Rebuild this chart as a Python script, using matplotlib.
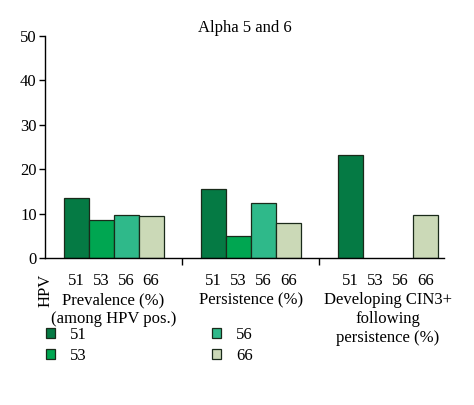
import matplotlib.pyplot as plt
import matplotlib.transforms as mtransforms
import numpy as np

# Data (percent)
types = ['51', '53', '56', '66']
groups = ['Prevalence (%)\n(among HPV pos.)', 'Persistence (%)',
          'Developing CIN3+\nfollowing\npersistence (%)']
prevalence = [13.5, 8.5, 9.7, 9.4]
persistence = [15.6, 4.9, 12.5, 7.9]
cin3 = [23.2, 0, 0, 9.6]
colors = ['#057a44', '#00a651', '#2fb98a', '#cbd9b7']

plt.rcParams['font.family'] = ['Liberation Serif', 'DejaVu Serif']

fig = plt.figure(figsize=(4.74, 4.05), dpi=100)
ax = fig.add_axes([0.095, 0.363, 0.842, 0.548])

values = np.array([prevalence, persistence, cin3])
x = np.arange(len(groups))
w = 0.182
offsets = (np.arange(len(types)) - 1.5) * w

for i, t in enumerate(types):
    vals = values[:, i]
    mask = vals > 0
    ax.bar(x[mask] + offsets[i], vals[mask], width=w, color=colors[i],
           edgecolor='#1a2a1a', linewidth=0.9, label=t)

ax.set_xlim(-0.5, 2.41)
ax.set_ylim(0, 50)
ax.set_yticks([0, 10, 20, 30, 40, 50])
ax.set_xticks([0.5, 1.5])
ax.set_xticklabels([])
ax.tick_params(axis='y', labelsize=12, length=4, width=1, pad=2)
ax.tick_params(axis='x', length=5, width=1)
ax.spines['top'].set_visible(False)
ax.spines['right'].set_visible(False)
ax.spines['left'].set_linewidth(1)
ax.spines['bottom'].set_linewidth(1)

ax.set_title('Alpha 5 and 6', fontsize=12, pad=3)

# HPV type labels under each bar
trans = mtransforms.blended_transform_factory(ax.transData, ax.transAxes)
for g in x:
    for i, t in enumerate(types):
        ax.text(g + offsets[i], -0.068, t, transform=trans, ha='center',
                va='top', fontsize=12)
    ax.text(g, -0.155, groups[g], transform=trans, ha='center', va='top',
            fontsize=12, linespacing=1.22)

ax.text(-0.5, -0.07, 'HPV', transform=trans, rotation=90, ha='center',
        va='top', fontsize=12)

fig.legend(loc='upper left', bbox_to_anchor=(0.065, 0.23), ncol=2,
           frameon=False, fontsize=12, handlelength=0.55, handleheight=0.55,
           handletextpad=0.9, columnspacing=7.5, labelspacing=0.32)

plt.savefig('out.png', dpi=100, facecolor='white')
plt.close()
